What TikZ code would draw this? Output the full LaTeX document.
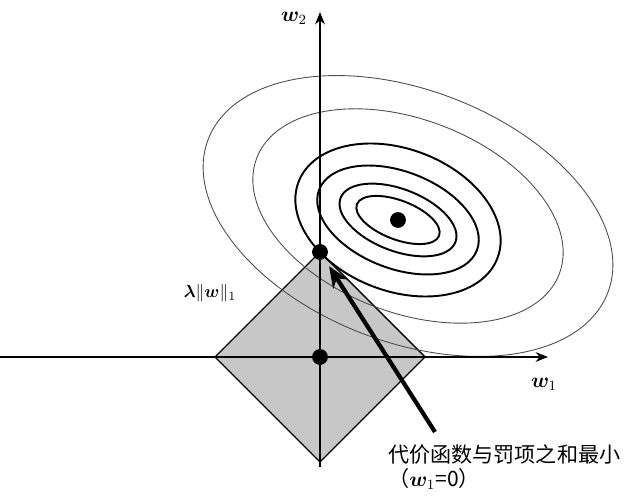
\documentclass[tikz,border=0pt]{standalone}
\usepackage{fontspec}
\newfontfamily\cjk{Noto Sans CJK SC}
\usepackage{amsmath}
\usepackage{bm}
\usetikzlibrary{arrows.meta}
\definecolor{ballgray}{gray}{0.78}

\begin{document}
\begin{tikzpicture}[
        axis/.style={line width=1.2pt, -{Stealth[length=7pt,width=5.5pt]}},
        contour/.style={line width=1.1pt},
        faint/.style={line width=0.5pt, black!70},
        dot/.style={circle, fill=black, inner sep=0pt, minimum size=9pt},
        pointer/.style={line width=2.4pt, -{Stealth[length=12pt,width=10pt]}, shorten >=5pt},
    ]
        \useasboundingbox (-6.4,-2.86) rectangle (6.34,7.14);

        % The L1 ball
        \filldraw[fill=ballgray, line width=0.8pt]
              (2.1,0) -- (0,2.1) -- (-2.1,0) -- (0,-2.1) -- cycle;

        % Level sets of the cost
        \begin{scope}[shift={(1.76,2.82)}, rotate=-21]
            \draw[faint] (0,0) ellipse (4.28 and 2.52);
            \draw[faint] (0,0) ellipse (3.24 and 1.93);
        \end{scope}
        \begin{scope}[shift={(1.56,2.74)}, rotate=-21]
            \draw[contour] (0,0) ellipse (2.13 and 1.42);
            \draw[contour] (0,0) ellipse (1.69 and 0.97);
            \draw[contour] (0,0) ellipse (1.23 and 0.62);
            \draw[contour] (0,0) ellipse (0.88 and 0.39);
        \end{scope}

        % Axes
        \coordinate (xl) at (-6.4,0);
        \coordinate (xr) at (4.56,0);
        \coordinate (yb) at (0,-2.2);
        \coordinate (yt) at (0,6.9);
        \draw[axis] (xl) -- (xr);
        \draw[axis] (yb) -- (yt);
        \node (w1) at (4.48,-0.55) {\large$\bm{w}_1$};
        \node (w2) at (-0.52,6.78) {\large$\bm{w}_2$};
        \node (reg) at (-2.2,1.28) {$\bm{\lambda}\|\bm{w}\|_1$};

        % Points
        \node[dot] (opt) at (1.56,2.74) {};
        \node[dot] (sol) at (0,2.1)     {};
        \node[dot] (o)   at (0,0)       {};

        % Note and pointer
        \node[anchor=north west, align=left, inner sep=0pt] (note) at (1.36,-1.74)
              {\large\cjk 代价函数与罚项之和最小\\[2pt]
               \large\cjk （$\bm{w}_1$=0）};
        \coordinate (tail) at (2.3,-1.5);
        \draw[pointer] (tail) -- (sol);
    \end{tikzpicture}
\end{document}
